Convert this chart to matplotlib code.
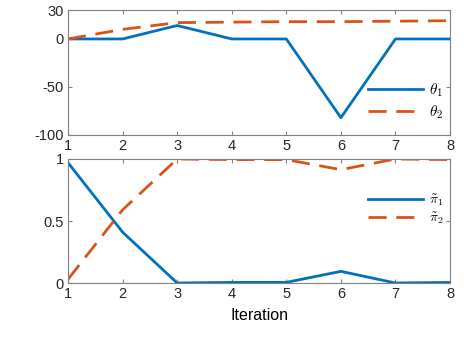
import numpy as np
import matplotlib.pyplot as plt

plt.rcParams['font.family'] = ['Liberation Sans', 'DejaVu Sans']
plt.rcParams['mathtext.fontset'] = 'cm'
plt.rcParams['axes.unicode_minus'] = False

iters = [1, 2, 3, 4, 5, 6, 7, 8]
theta1 = [0, 0, 14, 0, 0, -82, 0, 0]
theta2 = [0, 10, 17, 17.5, 18, 18, 18.5, 19]
pi1 = [0.97, 0.41, 0.0, 0.005, 0.005, 0.094, 0.0, 0.005]
pi2 = [0.03, 0.59, 1.0, 0.995, 0.995, 0.914, 1.0, 0.995]

blue = '#0072BD'
orange = '#D95319'
edge = '#808080'
dash = (0, (6.5, 3.5))

fig = plt.figure(figsize=(4.74, 3.38), dpi=100)
ax1 = fig.add_axes([0.1435, 0.6006, 0.806, 0.3694])
ax2 = fig.add_axes([0.1435, 0.1627, 0.806, 0.3669])

ax1.plot(iters, theta1, color=blue, lw=2, label=r'$\theta_1$')
ax1.plot(iters, theta2, color=orange, lw=2, ls=dash, label=r'$\theta_2$')
ax1.set_ylim(-100, 30)
ax1.set_yticks([-100, -50, 0, 30])

ax2.plot(iters, pi1, color=blue, lw=2, label=r'$\tilde{\pi}_1$')
ax2.plot(iters, pi2, color=orange, lw=2, ls=dash, label=r'$\tilde{\pi}_2$')
ax2.set_ylim(0, 1)
ax2.set_yticks([0, 0.5, 1])
ax2.set_yticklabels(['0', '0.5', '1'])
ax2.set_xlabel('Iteration', fontsize=11.5, labelpad=5)

for ax in (ax1, ax2):
    ax.set_xlim(1, 8)
    ax.set_xticks(iters)
    ax.tick_params(direction='in', top=True, right=True, length=3,
                   color=edge, labelsize=10.5, pad=3, labelcolor='#262626')
    for s in ax.spines.values():
        s.set_color(edge)
        s.set_linewidth(0.8)

ax1.legend(loc='center left', bbox_to_anchor=(0.77, 0.27), frameon=False,
           fontsize=11, handlelength=3.6, borderaxespad=0, labelspacing=0.25,
           handletextpad=0.4)
ax2.legend(loc='center left', bbox_to_anchor=(0.77, 0.595), frameon=False,
           fontsize=10, handlelength=4.0, borderaxespad=0, labelspacing=0.2,
           handletextpad=0.4)

fig.savefig('out.png', dpi=100)
